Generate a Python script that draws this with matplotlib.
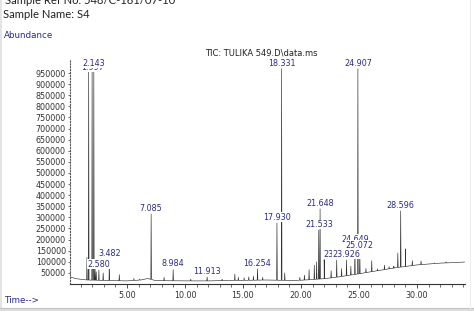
import numpy as np
import matplotlib
matplotlib.use('Agg')
import matplotlib.pyplot as plt
from matplotlib.lines import Line2D
from matplotlib.patches import Rectangle

# baseline of the TIC trace (retention time in min, abundance)
base_rt = [0.1, 0.6, 1.2, 1.6, 3.0, 5.0, 6.2, 6.8, 7.4, 8.0, 10.0, 12.0, 14.0,
           16.0, 17.0, 19.0, 20.0, 21.0, 22.0, 23.0, 24.0, 25.0, 26.0, 27.0,
           28.0, 29.0, 30.0, 31.0, 32.0, 33.0, 34.1]
base_abund = [32000, 24000, 20000, 18000, 16000, 14000, 18000, 25000, 16000,
              15000, 14000, 14000, 16000, 17000, 18000, 16000, 17000, 20000,
              24000, 30000, 38000, 46000, 55000, 63000, 72000, 79000, 86000,
              90000, 94000, 96000, 99000]

# peaks (retention time, apex abundance)
peak_rt = [1.55, 1.70, 1.997, 2.143, 2.25, 2.35, 2.580, 2.95, 3.482, 4.34,
           5.6, 6.1, 7.085, 8.2, 8.984, 10.5, 11.913, 13.2, 14.3, 14.6, 15.1,
           15.5, 15.9, 16.254, 16.7, 17.930, 18.331, 18.6, 19.9, 20.3, 20.7,
           21.15, 21.35, 21.533, 21.648, 22.0, 22.6, 23.080, 23.5, 23.926,
           24.3, 24.649, 24.907, 25.072, 25.6, 26.1, 26.6, 27.2, 27.6, 28.0,
           28.35, 28.596, 29.0, 29.6, 30.35, 31.5, 32.5]
peak_abund = [120000, 970000, 970000, 970000, 70000, 55000, 63000, 50000,
              110000, 42000, 25000, 22000, 315000, 30000, 65000, 22000, 31500,
              22000, 45000, 30000, 28000, 32000, 35000, 68000, 30000, 275000,
              970000, 50000, 30000, 40000, 65000, 85000, 100000, 243000,
              338000, 110000, 60000, 108000, 70000, 108000, 80000, 176000,
              970000, 149000, 70000, 105000, 68000, 85000, 78000, 80000,
              140000, 329000, 158000, 105000, 104000, 95000, 100000]

# peaks that carry a retention time label
labelled_rt = [1.997, 2.143, 2.580, 3.482, 7.085, 8.984, 11.913, 16.254,
               17.930, 18.331, 21.533, 21.648, 23.080, 23.926, 24.649,
               24.907, 25.072, 28.596]

x_ticks = [5, 10, 15, 20, 25, 30]
y_ticks = list(range(50000, 950001, 50000))

navy = '#2b2b85'

fig = plt.figure(figsize=(4.74, 3.11), dpi=100)
ax = fig.add_axes([70 / 474, 27 / 311, 395 / 474, 224 / 311])

# build the trace: baseline plus a narrow spike for every peak
t = list(base_rt)
y = list(base_abund)
for rt, h in zip(peak_rt, peak_abund):
    b = np.interp(rt, base_rt, base_abund)
    t += [rt - 0.03, rt, rt + 0.03]
    y += [b, h, b]
order = np.argsort(t, kind='stable')
t = np.array(t)[order]
y = np.array(y)[order]
ax.plot(t, y, color='#303030', lw=0.45, zorder=2)

# peak labels (white backed, later ones cover earlier ones)
for i, rt in enumerate(labelled_rt):
    h = peak_abund[peak_rt.index(rt)]
    dy = -2.2 if rt == 1.997 else 0.8
    ax.annotate(f'{rt:.3f}', (rt, h), xytext=(0, dy), textcoords='offset points',
                ha='center', va='bottom', fontsize=5.8, color=navy,
                bbox=dict(boxstyle='square,pad=0.05', fc='white', ec='none'),
                zorder=3 + i, annotation_clip=False)

ax.set_xlim(0.09, 34.14)
ax.set_ylim(0, 1009000)
ax.set_xticks(x_ticks)
ax.set_xticklabels([f'{v:.2f}' for v in x_ticks])
ax.set_xticks(range(1, 35), minor=True)
ax.set_yticks(y_ticks)
ax.set_yticklabels([str(v) for v in y_ticks])

for s in ['top', 'right']:
    ax.spines[s].set_visible(False)
ax.spines['left'].set_linestyle((0, (1, 1.6)))
ax.spines['left'].set_color('#555555')
ax.spines['left'].set_linewidth(0.8)
ax.spines['bottom'].set_color('#333333')
ax.spines['bottom'].set_linewidth(0.8)

ax.tick_params(axis='x', which='major', length=3, width=0.6, color='#333333',
               labelsize=5.8, labelcolor='#333333', pad=2)
ax.tick_params(axis='x', which='minor', length=2, width=0.5, color='#333333')
ax.tick_params(axis='y', length=1.5, width=0.6, color='#555555',
               labelsize=5.8, labelcolor='#333333', pad=1.5)

# header texts
fig.text(5 / 474, 1 - 4 / 311, 'Sample Ref No. 548/C-161/07-10', va='baseline',
         family='Lato', fontsize=8.1, color='#222222')
fig.text(3 / 474, 1 - 15 / 311, 'Sample Name: S4', va='center',
         family='Lato', fontsize=8.1, color='#222222')
fig.text(4 / 474, 1 - 35 / 311, 'Abundance', va='center', fontsize=6.3, color=navy)
fig.text(205 / 474, 1 - 53 / 311, 'TIC: TULIKA 549.D\\data.ms', va='center',
         fontsize=6, color='#222222')
fig.text(4 / 474, 1 - 300.5 / 311, 'Time-->', va='center', fontsize=6.3, color=navy)

# screenshot frame
fig.patches.append(Rectangle((0, 0), 2 / 474, 1, transform=fig.transFigure,
                             fc='#e4e4e4', ec='none'))
fig.patches.append(Rectangle((0, 0), 1, 3 / 311, transform=fig.transFigure,
                             fc='#dddddd', ec='none'))
fig.lines.append(Line2D([0, 1], [3 / 311, 3 / 311], transform=fig.transFigure,
                        color='#c4c4c4', lw=0.8))
fig.lines.append(Line2D([470 / 474, 470 / 474], [3 / 311, 1], transform=fig.transFigure,
                        color='#eeeeee', lw=0.8))

fig.savefig('out.png', dpi=100)
